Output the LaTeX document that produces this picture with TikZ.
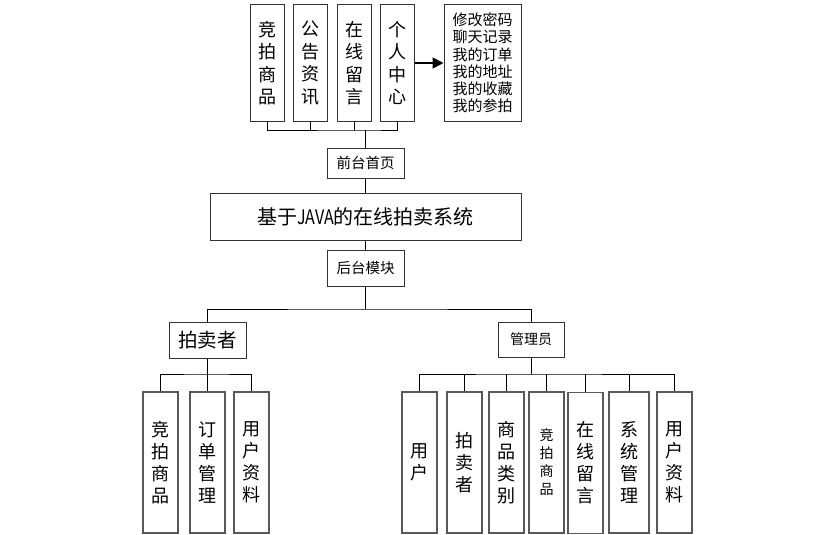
\documentclass[tikz,border=0pt]{standalone}
\usepackage{fontspec}
\setmainfont{Noto Sans CJK SC}
\usetikzlibrary{arrows.meta}

\begin{document}
\begin{tikzpicture}[x=1pt,y=-1pt,
    box/.style={draw=black!80,line width=1pt,inner sep=0pt,align=center},
    colbox/.style={box,minimum width=34pt,minimum height=116pt,font=\fontsize{18}{22.5}\selectfont},
    leafbox/.style={box,draw=black!65,line width=1.4pt,minimum width=35pt,minimum height=141pt,font=\fontsize{18}{22}\selectfont},
    link/.style={line width=1pt}]
  \useasboundingbox (0,0) rectangle (830,535);
  % front end
  \node[colbox] (jpsp) at (267.5,63) {竞\\拍\\商\\品};
  \node[colbox] (ggzx) at (310.5,63) {公\\告\\资\\讯};
  \node[colbox] (zxly) at (354,63) {在\\线\\留\\言};
  \node[colbox] (grzx) at (397.5,63) {个\\人\\中\\心};
  \node[box,minimum width=77pt,minimum height=116pt,font=\fontsize{15}{17.2}\selectfont] (grsub) at (482.5,63)
    {修改密码\\聊天记录\\我的订单\\我的地址\\我的收藏\\我的参拍};
  \draw[line width=1.8pt,-{Triangle[length=11pt,width=11pt]}] (grzx.east) -- (grsub.west);
  \node[box,minimum width=77pt,minimum height=30pt,font=\fontsize{14.5}{17}\selectfont] (qtsy) at (365.5,163) {前台首页};
  \coordinate (topbus) at (365.5,130);
  \draw[link] (jpsp.south) |- (topbus) -| (grzx.south);
  \draw[link] (ggzx.south) -- (ggzx.south |- topbus);
  \draw[link] (zxly.south) -- (zxly.south |- topbus);
  \draw[link] (topbus) -- (qtsy.north);
  % system
  \node[box,minimum width=311pt,minimum height=47pt,font=\fontsize{20}{24}\selectfont] (sys) at (365.5,216.5)
    {基于\scalebox{0.8}[1]{JAVA}的在线拍卖系统};
  \draw[link] (qtsy.south) -- (sys.north);
  \node[box,minimum width=77pt,minimum height=36pt,font=\fontsize{14.5}{17}\selectfont] (htmk) at (365.5,268) {后台模块};
  \draw[link] (sys.south) -- (htmk.north);
  % back end
  \node[box,minimum width=77pt,minimum height=36pt,font=\fontsize{19.5}{23}\selectfont] (seller) at (207.5,340) {拍卖者};
  \node[box,minimum width=66pt,minimum height=35pt,font=\fontsize{14}{17}\selectfont] (admin) at (531,339.5) {管理员};
  \coordinate (midbus) at (365.5,309);
  \draw[link] (htmk.south) -- (midbus);
  \draw[link] (seller.north) |- (midbus) -| (admin.north);
  % seller leaves
  \node[leafbox] (s1) at (160.5,462.5) {竞\\拍\\商\\品};
  \node[leafbox] (s2) at (207.5,462.5) {订\\单\\管\\理};
  \node[leafbox] (s3) at (251.5,462.5) {用\\户\\资\\料};
  \coordinate (sbus) at (207.5,374);
  \draw[link] (s1.north) |- (sbus) -| (s3.north);
  \draw[link] (seller.south) -- (s2.north);
  % admin leaves
  \node[leafbox] (a1) at (419.5,462.5) {用\\户};
  \node[leafbox] (a2) at (464.5,462.5) {拍\\卖\\者};
  \node[leafbox] (a3) at (506.5,462.5) {商\\品\\类\\别};
  \node[leafbox,font=\fontsize{14}{18}\selectfont] (a4) at (546.5,462.5) {竞\\拍\\商\\品};
  \node[leafbox] (a5) at (585.5,463) {在\\线\\留\\言};
  \node[leafbox,minimum width=40pt] (a6) at (629,462.5) {系\\统\\管\\理};
  \node[leafbox] (a7) at (674.5,462.5) {用\\户\\资\\料};
  \coordinate (abus) at (531,374);
  \draw[link] (admin.south) -- (abus);
  \draw[link] (a1.north) |- (abus) -| (a7.north);
  \foreach \n in {a2,a3,a4,a5,a6}
    \draw[link] (\n.north) -- (\n.north |- abus);
\end{tikzpicture}
\end{document}
